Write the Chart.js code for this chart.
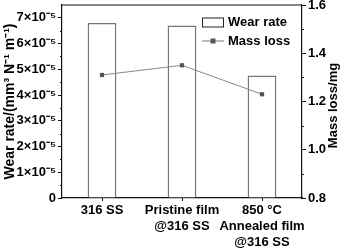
<!DOCTYPE html>
<html>
<head>
<meta charset="utf-8">
<script src="https://cdn.jsdelivr.net/npm/chart.js@4.4.1/dist/chart.umd.min.js"></script>
<style>
  html, body { margin: 0; padding: 0; background: #fff; }
  #wrap { width: 342px; height: 249px; }
</style>
</head>
<body>
<div id="wrap"><canvas id="wearChart" width="342" height="249"></canvas></div>
<script>
// data
const categories = [['316 SS'], ['Pristine film', '@316 SS'], ['850 °C', 'Annealed film', '@316 SS']];
const wearRate = [6.8e-5, 6.7e-5, 4.76e-5];
const massLoss = [1.31, 1.35, 1.23];
const wearTicks = ['0', '1×10⁻⁵', '2×10⁻⁵', '3×10⁻⁵', '4×10⁻⁵', '5×10⁻⁵', '6×10⁻⁵', '7×10⁻⁵'];

const FONT = "'Liberation Sans', Arial, sans-serif";
const boldFont = { family: FONT, size: 13, weight: 'bold' };

// no extra room above/below the vertical axes
const noPad = s => { s.paddingTop = 0; s.paddingBottom = 0; };

// frame, minor ticks, right-hand title and legend
const extras = {
  id: 'extras',
  afterDraw(chart) {
    const ctx = chart.ctx;
    const a = chart.chartArea;
    ctx.save();
    ctx.strokeStyle = '#111';
    ctx.lineWidth = 1.2;
    ctx.beginPath();
    ctx.moveTo(a.left, a.top);
    ctx.lineTo(a.right, a.top);
    ctx.stroke();

    // minor ticks
    ctx.lineWidth = 1;
    const y = chart.scales.y;
    for (let v = 0.5e-5; v < 7.5e-5; v += 1e-5) {
      const p = Math.round(y.getPixelForValue(v)) + 0.5;
      ctx.beginPath(); ctx.moveTo(a.left - 2, p); ctx.lineTo(a.left, p); ctx.stroke();
    }
    const y1 = chart.scales.y1;
    for (let v = 0.9; v < 1.6; v += 0.2) {
      const p = Math.round(y1.getPixelForValue(v)) + 0.5;
      ctx.beginPath(); ctx.moveTo(a.right, p); ctx.lineTo(a.right + 2, p); ctx.stroke();
    }

    // right axis title, reading upwards like the left one
    ctx.save();
    ctx.translate(333, (a.top + a.bottom) / 2 + 4);
    ctx.rotate(-Math.PI / 2);
    ctx.fillStyle = '#000';
    ctx.font = 'bold 13px ' + FONT;
    ctx.textAlign = 'center';
    ctx.textBaseline = 'middle';
    ctx.fillText('Mass loss/mg', 0, 0);
    ctx.restore();

    // legend
    const lx = 202, ly1 = 22.5, ly2 = 41;
    ctx.strokeStyle = '#222';
    ctx.lineWidth = 1;
    ctx.strokeRect(lx + 0.5, ly1 - 4.5, 21, 9);
    ctx.strokeStyle = '#777';
    ctx.beginPath(); ctx.moveTo(lx, ly2); ctx.lineTo(lx + 22, ly2); ctx.stroke();
    ctx.fillStyle = '#555';
    ctx.fillRect(lx + 8.5, ly2 - 2.5, 5, 5);
    ctx.fillStyle = '#000';
    ctx.font = 'bold 13px ' + FONT;
    ctx.textBaseline = 'middle';
    ctx.fillText('Wear rate', lx + 26, ly1);
    ctx.fillText('Mass loss', lx + 26, ly2);
    ctx.restore();
  }
};

new Chart(document.getElementById('wearChart'), {
  data: {
    labels: categories,
    datasets: [
      {
        type: 'line',
        label: 'Mass loss',
        data: massLoss,
        yAxisID: 'y1',
        borderColor: '#888',
        borderWidth: 1,
        pointStyle: 'rect',
        pointRadius: 3,
        pointBackgroundColor: '#555',
        pointBorderColor: '#555',
        pointBorderWidth: 0,
        order: 0
      },
      {
        type: 'bar',
        label: 'Wear rate',
        data: wearRate,
        yAxisID: 'y',
        backgroundColor: '#fff',
        borderColor: '#777',
        borderWidth: 1.5,
        barPercentage: 0.36,
        categoryPercentage: 1,
        order: 1
      }
    ]
  },
  options: {
    responsive: false,
    animation: false,
    layout: { padding: { top: 5, left: 0, right: 0, bottom: 0 } },
    plugins: { legend: { display: false }, tooltip: { enabled: false } },
    scales: {
      x: {
        offset: true,
        border: { color: '#111', width: 1.2 },
        grid: { display: true, offset: false, drawOnChartArea: false, tickLength: 3, color: '#111' },
        ticks: { color: '#000', font: boldFont, padding: 2, maxRotation: 0, autoSkip: false },
        afterFit: s => { s.height = 51; s.paddingLeft = 0; s.paddingRight = 0; }
      },
      y: {
        position: 'left',
        min: 0,
        max: 7.5e-5,
        border: { color: '#111', width: 1.2 },
        grid: { drawOnChartArea: false, tickLength: 4, color: '#111' },
        ticks: {
          stepSize: 1e-5,
          includeBounds: false,
          autoSkip: false,
          color: '#000',
          font: { family: FONT, size: 13, weight: 'bold' },
          padding: 2,
          callback: (v) => wearTicks[Math.round(v / 1e-5)] || ''
        },
        title: {
          display: true,
          text: 'Wear rate/(mm³ N⁻¹ m⁻¹)',
          color: '#000',
          font: { family: FONT, size: 14, weight: 'bold' },
          padding: { top: 2, bottom: 0 }
        },
        afterFit: s => { s.width = 62; noPad(s); }
      },
      y1: {
        position: 'right',
        min: 0.8,
        max: 1.6,
        border: { color: '#111', width: 1.2 },
        grid: { drawOnChartArea: false, tickLength: 4, color: '#111' },
        ticks: {
          stepSize: 0.2,
          autoSkip: false,
          color: '#000',
          font: { family: FONT, size: 13, weight: 'bold' },
          padding: 2,
          callback: (v) => v.toFixed(1)
        },
        afterFit: s => { s.width = 40; noPad(s); }
      }
    }
  },
  plugins: [extras]
});
</script>
</body>
</html>
